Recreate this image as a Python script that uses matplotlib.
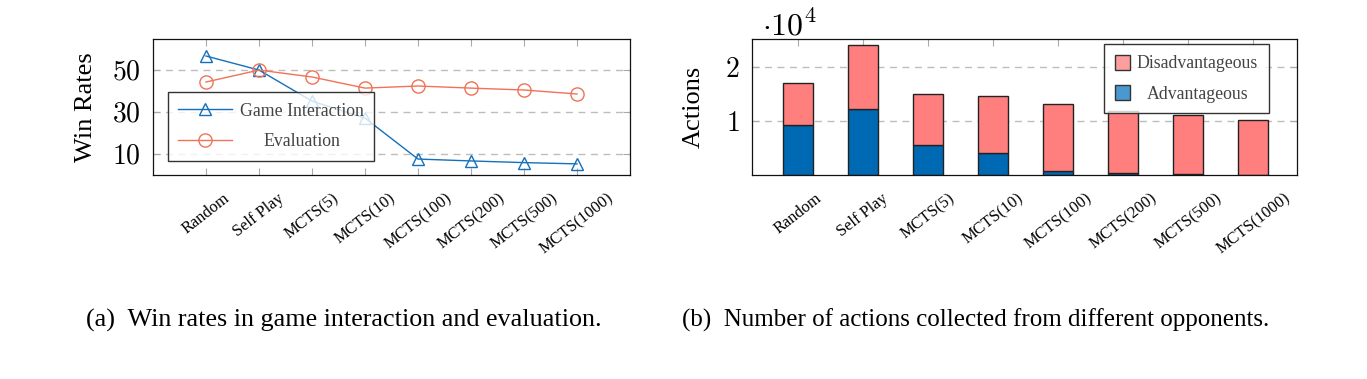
import matplotlib
matplotlib.use('Agg')
import matplotlib.pyplot as plt
from matplotlib.patches import Patch
import numpy as np

categories = ["Random", "Self Play", "MCTS(5)", "MCTS(10)", "MCTS(100)",
              "MCTS(200)", "MCTS(500)", "MCTS(1000)"]
game_interaction = [56.7, 50.0, 35.2, 27.1, 7.6, 6.7, 5.9, 5.3]
evaluation = [44.3, 50.0, 46.7, 41.4, 42.4, 41.4, 40.5, 38.6]
advantageous = [9300, 12200, 5500, 4000, 700, 400, 150, 50]
disadvantageous = [7800, 11800, 9500, 10700, 12400, 11400, 11050, 10150]
win_ticks = [10, 30, 50]
action_ticks = [10000, 20000]
action_tick_labels = ["1", "2"]

BLUE_LINE = '#1470BA'
RED_LINE = '#F07258'
BLUE_BAR = '#0069B4'
RED_BAR = '#FF7F7F'
GRID = '#bdbdbd'

plt.rcParams['font.family'] = ['Liberation Serif', 'DejaVu Serif']
plt.rcParams['mathtext.fontset'] = 'cm'

W, H = 1367, 379
fig = plt.figure(figsize=(W / 100, H / 100), dpi=100)
ax1 = fig.add_axes([153 / W, 1 - 175 / H, 477 / W, 136 / H])
ax2 = fig.add_axes([752 / W, 1 - 175 / H, 545 / W, 136 / H])

x = np.arange(len(categories))

# ---- (a) line chart
ax1.plot(x, game_interaction, color=BLUE_LINE, lw=1.0, marker='^', ms=8,
         mfc='none', mew=1.0, label='Game Interaction', zorder=3)
ax1.plot(x, evaluation, color=RED_LINE, lw=1.0, marker='o', ms=9.5,
         mfc='none', mew=1.0, label='Evaluation', zorder=3)
ax1.set_xlim(-1, 8)
ax1.set_ylim(0, 64.8)
ax1.set_yticks(win_ticks)
ax1.set_yticklabels([f'${t}$' for t in win_ticks], fontsize=20)
ax1.set_xticks(x)
ax1.set_xticklabels(categories, rotation=38, ha='center', va='top', fontsize=11.8)
ax1.yaxis.grid(True, ls=(0, (5, 4)), color=GRID, lw=1.0)
ax1.set_ylabel('Win Rates', fontsize=19)
ax1.yaxis.set_label_coords(-0.118, 0.5)

# ---- (b) stacked bars
ax2.bar(x, advantageous, width=0.46, color=BLUE_BAR, edgecolor='#222222',
        lw=1.0, zorder=2)
ax2.bar(x, disadvantageous, bottom=advantageous, width=0.46, color=RED_BAR,
        edgecolor='#222222', lw=1.0, zorder=2)
ax2.set_xlim(-0.7, 7.67)
ax2.set_ylim(0, 25200)
ax2.set_yticks(action_ticks)
ax2.set_yticklabels([f'${t}$' for t in action_tick_labels], fontsize=20)
ax2.set_xticks(x)
ax2.set_xticklabels(categories, rotation=38, ha='center', va='top', fontsize=11.8)
ax2.yaxis.grid(True, ls=(0, (5, 4)), color=GRID, lw=1.0)
ax2.set_axisbelow(True)
ax2.set_ylabel('Actions', fontsize=19)
ax2.yaxis.set_label_coords(-0.086, 0.5)
fig.text(762 / W, 1 - 35 / H, r'$\cdot 10^4$', fontsize=23, ha='left', va='baseline')

for ax in (ax1, ax2):
    for s in ax.spines.values():
        s.set_linewidth(0.9)
        s.set_color('#111111')
    ax.tick_params(axis='x', direction='in', length=5, color='#aaaaaa',
                   top=True, bottom=True, pad=11)
    ax.tick_params(axis='y', direction='in', length=5, color='#aaaaaa',
                   left=True, right=True, pad=9)

# legends
leg1 = ax1.legend(loc='upper left', bbox_to_anchor=(0.031, 0.61), borderaxespad=0,
                  fontsize=12.8, handlelength=3.0, handletextpad=0.45,
                  borderpad=0.6, labelspacing=0.75, fancybox=False)
handles2 = [Patch(facecolor='#FF9E9E', edgecolor='#333333', lw=1.0),
            Patch(facecolor='#4A98D0', edgecolor='#333333', lw=1.0)]
leg2 = ax2.legend(handles2, ['Disadvantageous', 'Advantageous'], loc='upper left',
                  bbox_to_anchor=(0.646, 0.963), borderaxespad=0, fontsize=12.8,
                  handlelength=0.85, handleheight=0.95, handletextpad=0.4,
                  borderpad=0.6, labelspacing=0.7, fancybox=False)
for leg in (leg1, leg2):
    fr = leg.get_frame()
    fr.set_alpha(None)
    fr.set_facecolor((1, 1, 1, 0.8))
    fr.set_edgecolor('#333333')
    fr.set_linewidth(1.0)
    for t in leg.get_texts():
        t.set_color('#444444')

# center shorter legend label under the longer one
fig.canvas.draw()
r = fig.canvas.get_renderer()
for leg in (leg1, leg2):
    texts = leg.get_texts()
    widths = [t.get_window_extent(r).width for t in texts]
    wmax = max(widths)
    for t, w in zip(texts, widths):
        t.set_x((wmax - w) / 2)

fig.text(344 / W, 1 - 320 / H, '(a)  Win rates in game interaction and evaluation.',
         fontsize=18.8, ha='center', va='center')
fig.text(976 / W, 1 - 320 / H, '(b)  Number of actions collected from different opponents.',
         fontsize=18, ha='center', va='center')

fig.savefig('out.png', dpi=100)
